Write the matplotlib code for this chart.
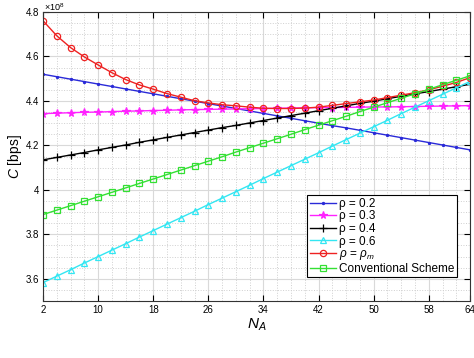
import matplotlib
matplotlib.use("Agg")
import matplotlib.pyplot as plt
from matplotlib.ticker import MultipleLocator, FixedLocator, FuncFormatter

# capacity values in units of 1e8 bps
n_a = [2, 4, 6, 8, 10, 12, 14, 16, 18, 20, 22, 24, 26, 28, 30, 32,
       34, 36, 38, 40, 42, 44, 46, 48, 50, 52, 54, 56, 58, 60, 62, 64]

c_rho_02 = [4.520, 4.509, 4.498, 4.487, 4.476, 4.465, 4.454, 4.443,
            4.432, 4.421, 4.410, 4.399, 4.388, 4.377, 4.366, 4.355,
            4.344, 4.333, 4.322, 4.311, 4.300, 4.289, 4.279, 4.268,
            4.257, 4.246, 4.235, 4.224, 4.213, 4.202, 4.191, 4.180]
c_rho_03 = [4.343, 4.345, 4.347, 4.349, 4.350, 4.352, 4.354, 4.355,
            4.357, 4.358, 4.360, 4.361, 4.362, 4.363, 4.364, 4.365,
            4.366, 4.367, 4.368, 4.369, 4.370, 4.370, 4.371, 4.372,
            4.373, 4.373, 4.374, 4.375, 4.376, 4.377, 4.378, 4.379]
c_rho_04 = [4.135, 4.146, 4.157, 4.168, 4.180, 4.191, 4.202, 4.214,
            4.225, 4.236, 4.247, 4.258, 4.269, 4.280, 4.290, 4.301,
            4.312, 4.323, 4.334, 4.345, 4.356, 4.367, 4.378, 4.389,
            4.399, 4.410, 4.421, 4.432, 4.442, 4.453, 4.464, 4.475]
c_rho_06 = [3.583, 3.612, 3.641, 3.671, 3.700, 3.729, 3.758, 3.788,
            3.817, 3.846, 3.875, 3.904, 3.934, 3.963, 3.992, 4.021,
            4.051, 4.080, 4.109, 4.138, 4.167, 4.197, 4.226, 4.255,
            4.284, 4.313, 4.343, 4.372, 4.401, 4.430, 4.459, 4.488]
c_rho_m = [4.761, 4.693, 4.640, 4.598, 4.562, 4.527, 4.496, 4.472,
           4.453, 4.433, 4.417, 4.401, 4.391, 4.383, 4.378, 4.372,
           4.367, 4.366, 4.366, 4.368, 4.372, 4.380, 4.388, 4.396,
           4.404, 4.415, 4.426, 4.437, 4.450, 4.466, 4.483, 4.505]
c_conv = [3.889, 3.909, 3.929, 3.949, 3.969, 3.989, 4.009, 4.029,
          4.049, 4.069, 4.089, 4.109, 4.129, 4.149, 4.170, 4.190,
          4.210, 4.230, 4.250, 4.271, 4.291, 4.311, 4.331, 4.352,
          4.372, 4.392, 4.412, 4.432, 4.452, 4.473, 4.493, 4.513]

x_ticks = [2, 10, 18, 26, 34, 42, 50, 58, 64]

plt.rcParams['font.family'] = ['Liberation Sans', 'DejaVu Sans']
plt.rcParams['mathtext.fontset'] = 'custom'
plt.rcParams['mathtext.rm'] = 'Liberation Sans'
plt.rcParams['mathtext.it'] = 'Liberation Sans:italic'

fig = plt.figure(figsize=(4.74, 3.58), dpi=100)
ax = fig.add_axes([0.0907, 0.159, 0.901, 0.8075])

# (data, color, marker, label, filled)
series = [
    (c_rho_02, '#2a2ad8', '.', 'ρ = 0.2', True),
    (c_rho_03, '#ff22ff', '*', 'ρ = 0.3', True),
    (c_rho_04, '#000000', '+', 'ρ = 0.4', True),
    (c_rho_06, '#33e6f2', '^', 'ρ = 0.6', False),
    (c_rho_m, '#ee2222', 'o', r'$\rho$ = $\rho_m$', False),
    (c_conv, '#33e033', 's', 'Conventional Scheme', False),
]
for vals, col, mk, lab, filled in series:
    ms = 3 if mk == '.' else (5.5 if mk in '*+' else 4.5)
    ax.plot(n_a, vals, color=col, marker=mk, markersize=ms, linewidth=1.0,
            markerfacecolor=col if filled else 'none', markeredgewidth=0.9,
            label=lab)

ax.set_xlim(2, 64)
ax.set_ylim(3.5, 4.8)
ax.xaxis.set_major_locator(FixedLocator(x_ticks))
ax.xaxis.set_minor_locator(MultipleLocator(2))
ax.yaxis.set_major_locator(MultipleLocator(0.2))
ax.yaxis.set_minor_locator(MultipleLocator(0.05))
ax.yaxis.set_major_formatter(FuncFormatter(lambda v, p: f"{v:g}"))

ax.grid(True, which='major', color='#d9d9d9', linestyle='-', linewidth=0.8)
ax.grid(True, which='minor', color='#cfcfcf', linestyle=':', linewidth=0.7)
ax.set_axisbelow(True)
ax.tick_params(which='both', direction='in', top=True, right=True,
               labelsize=7, pad=3)
ax.tick_params(which='minor', length=0)
ax.tick_params(which='major', length=4, width=0.8)
for s in ax.spines.values():
    s.set_linewidth(0.8)
    s.set_color('#333333')

# exponent of the y axis, drawn above the top-left corner
fig.text(0.092, 0.997, r'$\times10^8$', fontsize=6.5, ha='left', va='top')
ax.set_ylabel(r'$C$ [bps]', fontsize=10, labelpad=1)
ax.set_xlabel(r'$N_A$', fontsize=11, labelpad=1)

leg = ax.legend(loc='lower right', bbox_to_anchor=(0.9696, 0.083),
                fontsize=8.5, frameon=True, fancybox=False,
                edgecolor='black', framealpha=1, borderpad=0.2,
                labelspacing=0.05, handlelength=2.2, handletextpad=0.3,
                borderaxespad=0)
leg.get_frame().set_linewidth(0.8)

fig.savefig('out.png', dpi=100)
